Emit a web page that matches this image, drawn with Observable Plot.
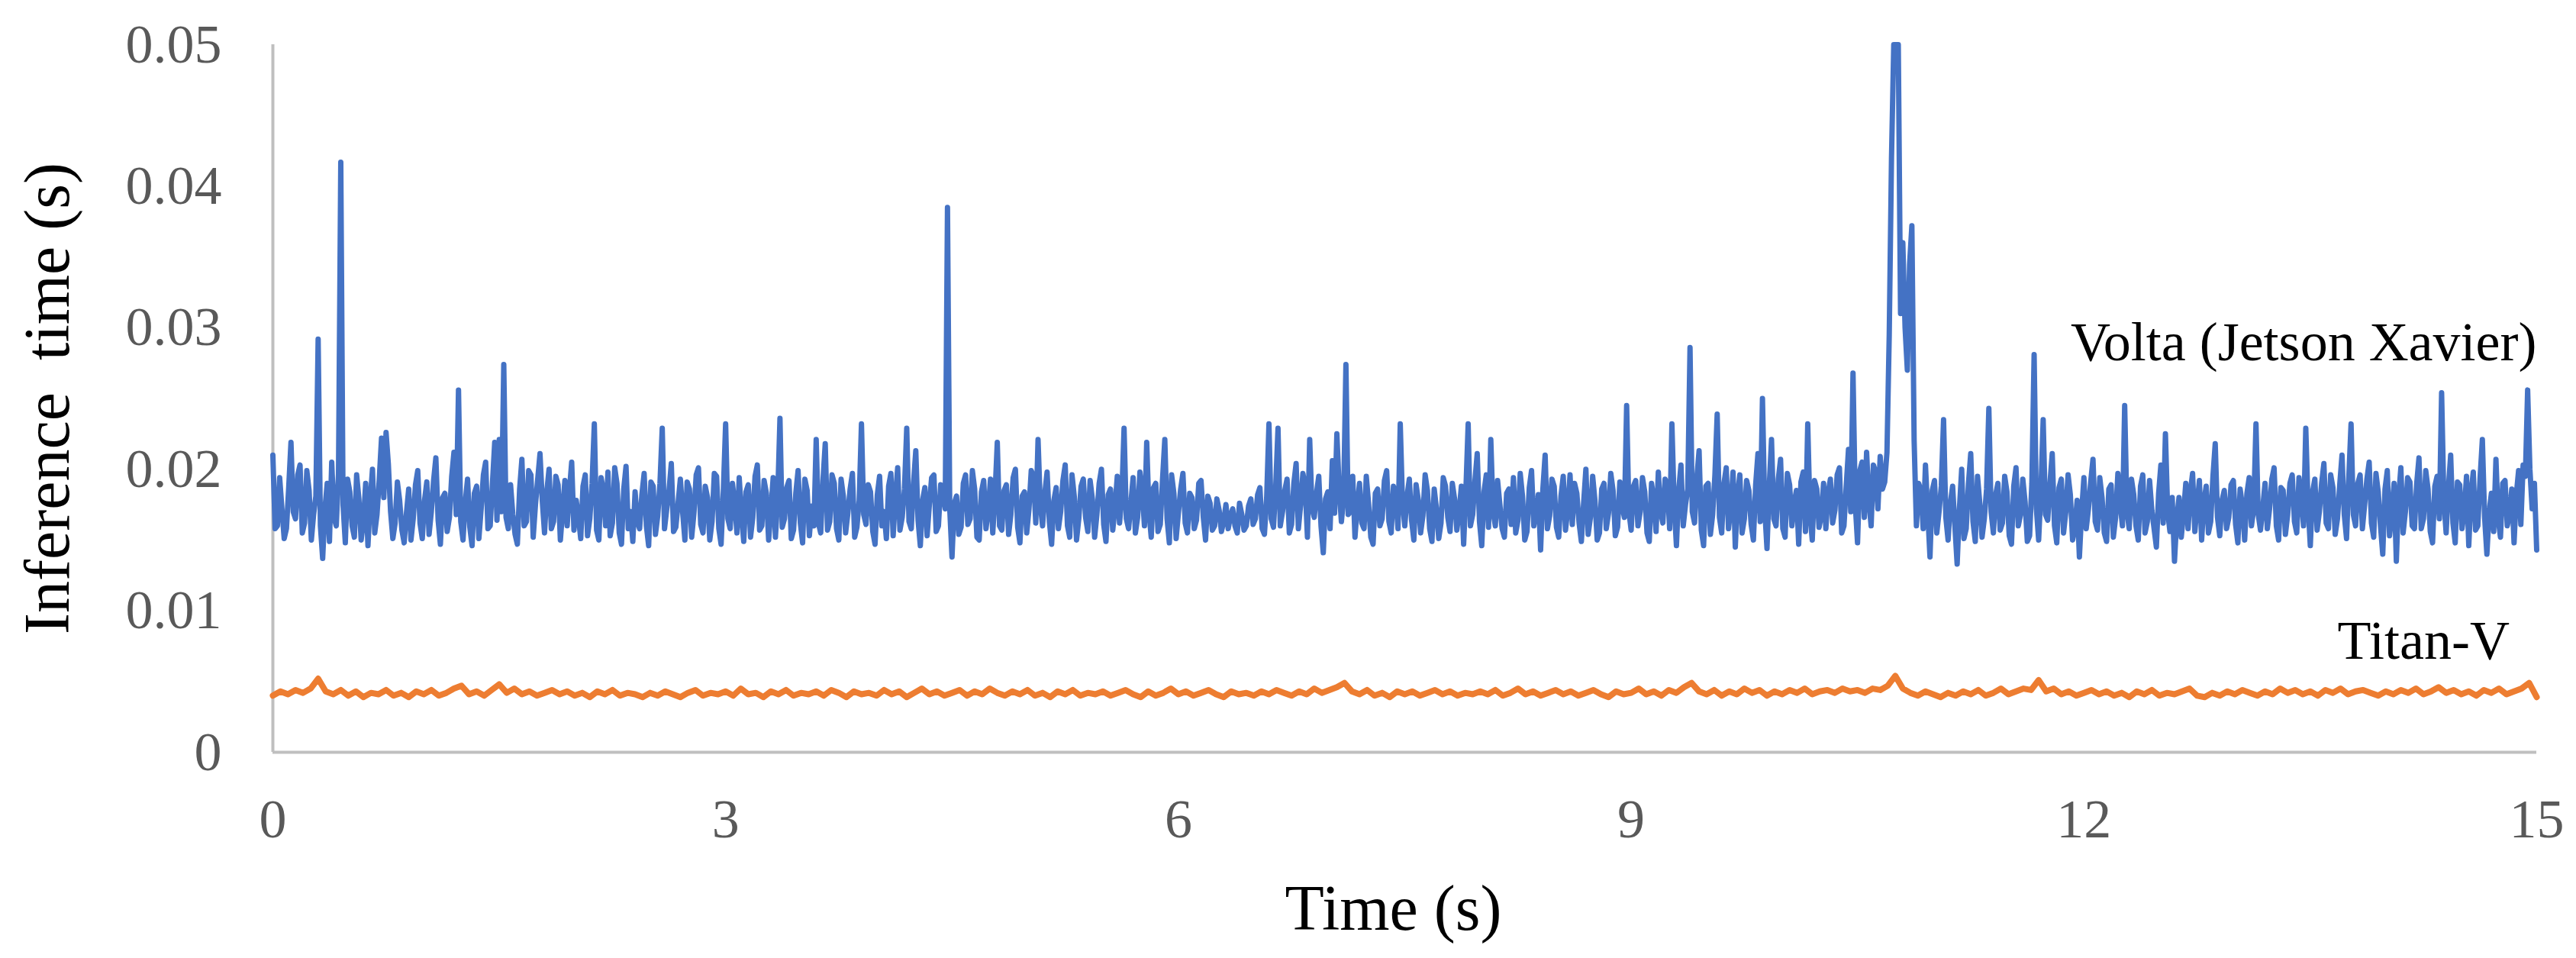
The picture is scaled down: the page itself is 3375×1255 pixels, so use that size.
<!DOCTYPE html>
<html>
<head>
<meta charset="utf-8">
<script src="https://cdn.jsdelivr.net/npm/d3@7"></script>
<script src="https://cdn.jsdelivr.net/npm/@observablehq/plot@0.6"></script>
<style>
  html, body { margin: 0; padding: 0; background: #ffffff; }
  #chart { width: 3375px; height: 1255px; }
</style>
</head>
<body>
<div id="chart"></div>
<script>
// ---- Data ----
const xTicks = [0, 3, 6, 9, 12, 15];
const yTicks = [0, 0.01, 0.02, 0.03, 0.04, 0.05];
const seriesNames = ["Volta (Jetson Xavier)", "Titan-V"];

// Volta (Jetson Xavier): one sample every 0.015 s from 0 s to 15 s (one row = 0.3 s)
const voltaInterval = 0.015;
const voltaValues = [
  0.0210,0.0158,0.0160,0.0194,0.0172,0.0151,0.0158,0.0187,0.0219,0.0170,0.0165,0.0196,0.0203,0.0155,0.0162,0.0199,0.0185,0.0150,0.0168,0.0181,
  0.0292,0.0160,0.0137,0.0172,0.0190,0.0149,0.0205,0.0166,0.0160,0.0197,0.0417,0.0175,0.0148,0.0193,0.0184,0.0160,0.0152,0.0196,0.0179,0.0150,
  0.0163,0.0190,0.0146,0.0178,0.0200,0.0155,0.0168,0.0193,0.0222,0.0180,0.0226,0.0204,0.0170,0.0151,0.0162,0.0191,0.0178,0.0157,0.0148,0.0169,
  0.0186,0.0150,0.0165,0.0189,0.0199,0.0162,0.0151,0.0178,0.0191,0.0154,0.0170,0.0192,0.0208,0.0164,0.0147,0.0180,0.0183,0.0156,0.0166,0.0195,
  0.0212,0.0168,0.0256,0.0163,0.0150,0.0177,0.0193,0.0159,0.0146,0.0183,0.0188,0.0151,0.0172,0.0196,0.0205,0.0158,0.0160,0.0190,0.0219,0.0164,
  0.0221,0.0170,0.0274,0.0166,0.0158,0.0189,0.0168,0.0154,0.0147,0.0186,0.0207,0.0160,0.0163,0.0199,0.0196,0.0152,0.0175,0.0193,0.0211,0.0178,
  0.0155,0.0184,0.0200,0.0158,0.0163,0.0195,0.0189,0.0150,0.0171,0.0192,0.0160,0.0185,0.0205,0.0157,0.0178,0.0166,0.0151,0.0188,0.0196,0.0153,
  0.0165,0.0190,0.0232,0.0157,0.0150,0.0194,0.0185,0.0160,0.0198,0.0153,0.0162,0.0201,0.0190,0.0155,0.0147,0.0186,0.0202,0.0158,0.0170,0.0149,
  0.0184,0.0163,0.0158,0.0182,0.0197,0.0160,0.0146,0.0191,0.0188,0.0154,0.0167,0.0190,0.0229,0.0158,0.0172,0.0185,0.0204,0.0156,0.0159,0.0176,
  0.0193,0.0170,0.0150,0.0191,0.0186,0.0152,0.0169,0.0196,0.0201,0.0161,0.0155,0.0188,0.0180,0.0150,0.0163,0.0197,0.0195,0.0158,0.0147,0.0185,
  0.0232,0.0165,0.0158,0.0190,0.0176,0.0155,0.0194,0.0168,0.0149,0.0184,0.0189,0.0152,0.0166,0.0195,0.0203,0.0157,0.0160,0.0192,0.0183,0.0150,
  0.0171,0.0194,0.0152,0.0180,0.0236,0.0159,0.0165,0.0187,0.0192,0.0151,0.0157,0.0183,0.0199,0.0162,0.0148,0.0193,0.0185,0.0153,0.0174,0.0160,
  0.0221,0.0162,0.0155,0.0192,0.0218,0.0157,0.0163,0.0196,0.0190,0.0158,0.0150,0.0193,0.0181,0.0155,0.0169,0.0186,0.0197,0.0152,0.0159,0.0178,
  0.0232,0.0168,0.0161,0.0189,0.0184,0.0156,0.0147,0.0182,0.0195,0.0160,0.0170,0.0151,0.0188,0.0197,0.0153,0.0180,0.0201,0.0157,0.0166,0.0186,
  0.0229,0.0163,0.0158,0.0190,0.0213,0.0164,0.0146,0.0178,0.0187,0.0153,0.0175,0.0194,0.0196,0.0156,0.0160,0.0189,0.0183,0.0172,0.0385,0.0172,
  0.0138,0.0176,0.0181,0.0154,0.0159,0.0190,0.0196,0.0161,0.0165,0.0199,0.0186,0.0152,0.0150,0.0184,0.0192,0.0158,0.0171,0.0193,0.0155,0.0182,
  0.0219,0.0160,0.0157,0.0185,0.0189,0.0154,0.0168,0.0194,0.0200,0.0159,0.0148,0.0181,0.0184,0.0155,0.0172,0.0199,0.0195,0.0162,0.0221,0.0175,
  0.0160,0.0183,0.0198,0.0163,0.0147,0.0178,0.0187,0.0158,0.0170,0.0192,0.0203,0.0160,0.0152,0.0196,0.0181,0.0150,0.0165,0.0188,0.0193,0.0166,
  0.0156,0.0192,0.0179,0.0152,0.0168,0.0190,0.0200,0.0161,0.0149,0.0182,0.0186,0.0157,0.0173,0.0195,0.0162,0.0180,0.0229,0.0165,0.0158,0.0176,
  0.0194,0.0155,0.0166,0.0198,0.0185,0.0160,0.0219,0.0170,0.0152,0.0187,0.0190,0.0156,0.0161,0.0193,0.0221,0.0165,0.0148,0.0196,0.0183,0.0151,
  0.0169,0.0186,0.0197,0.0162,0.0155,0.0183,0.0180,0.0158,0.0164,0.0190,0.0192,0.0166,0.0150,0.0181,0.0176,0.0157,0.0160,0.0179,0.0171,0.0156,
  0.0163,0.0175,0.0158,0.0167,0.0172,0.0160,0.0155,0.0176,0.0168,0.0157,0.0160,0.0174,0.0179,0.0161,0.0165,0.0182,0.0187,0.0158,0.0154,0.0180,
  0.0232,0.0165,0.0159,0.0188,0.0229,0.0160,0.0170,0.0185,0.0193,0.0155,0.0161,0.0190,0.0204,0.0158,0.0175,0.0197,0.0188,0.0152,0.0221,0.0173,
  0.0166,0.0183,0.0195,0.0160,0.0141,0.0179,0.0184,0.0158,0.0206,0.0169,0.0225,0.0187,0.0163,0.0180,0.0274,0.0168,0.0170,0.0195,0.0152,0.0174,
  0.0190,0.0162,0.0158,0.0195,0.0176,0.0152,0.0147,0.0183,0.0186,0.0160,0.0165,0.0192,0.0199,0.0163,0.0155,0.0188,0.0181,0.0158,0.0232,0.0176,
  0.0160,0.0181,0.0193,0.0164,0.0150,0.0189,0.0178,0.0155,0.0167,0.0196,0.0185,0.0158,0.0149,0.0186,0.0172,0.0151,0.0162,0.0194,0.0188,0.0166,
  0.0156,0.0190,0.0179,0.0157,0.0170,0.0188,0.0147,0.0185,0.0232,0.0160,0.0168,0.0192,0.0211,0.0163,0.0146,0.0184,0.0196,0.0159,0.0221,0.0170,
  0.0160,0.0192,0.0175,0.0158,0.0152,0.0183,0.0186,0.0161,0.0194,0.0155,0.0164,0.0197,0.0181,0.0150,0.0156,0.0187,0.0199,0.0160,0.0170,0.0182,
  0.0143,0.0186,0.0210,0.0158,0.0167,0.0193,0.0188,0.0159,0.0152,0.0181,0.0195,0.0157,0.0172,0.0196,0.0161,0.0190,0.0183,0.0162,0.0149,0.0176,
  0.0200,0.0154,0.0166,0.0195,0.0178,0.0150,0.0155,0.0186,0.0190,0.0158,0.0169,0.0197,0.0185,0.0153,0.0159,0.0191,0.0174,0.0166,0.0245,0.0170,
  0.0157,0.0188,0.0192,0.0160,0.0170,0.0194,0.0184,0.0155,0.0149,0.0190,0.0179,0.0156,0.0198,0.0170,0.0162,0.0193,0.0189,0.0158,0.0232,0.0175,
  0.0146,0.0185,0.0203,0.0160,0.0175,0.0186,0.0286,0.0170,0.0162,0.0194,0.0213,0.0157,0.0146,0.0188,0.0190,0.0154,0.0168,0.0196,0.0239,0.0166,
  0.0155,0.0190,0.0201,0.0158,0.0173,0.0198,0.0145,0.0182,0.0196,0.0155,0.0165,0.0192,0.0185,0.0161,0.0150,0.0189,0.0211,0.0163,0.0250,0.0172,
  0.0144,0.0188,0.0221,0.0165,0.0160,0.0193,0.0207,0.0158,0.0152,0.0197,0.0189,0.0160,0.0176,0.0185,0.0147,0.0191,0.0198,0.0156,0.0232,0.0168,
  0.0150,0.0192,0.0186,0.0159,0.0167,0.0190,0.0158,0.0183,0.0193,0.0162,0.0171,0.0196,0.0201,0.0155,0.0160,0.0188,0.0214,0.0170,0.0268,0.0175,
  0.0148,0.0199,0.0205,0.0166,0.0212,0.0178,0.0160,0.0203,0.0198,0.0172,0.0209,0.0186,0.0191,0.0212,0.0295,0.0420,0.0500,0.0500,0.0500,0.0310,
  0.0360,0.0300,0.0270,0.0345,0.0372,0.0220,0.0160,0.0190,0.0185,0.0158,0.0203,0.0170,0.0138,0.0185,0.0192,0.0155,0.0170,0.0188,0.0235,0.0166,
  0.0150,0.0176,0.0188,0.0160,0.0133,0.0172,0.0200,0.0151,0.0158,0.0190,0.0211,0.0163,0.0149,0.0195,0.0176,0.0152,0.0165,0.0186,0.0243,0.0170,
  0.0155,0.0182,0.0190,0.0157,0.0162,0.0195,0.0184,0.0153,0.0147,0.0188,0.0201,0.0160,0.0168,0.0193,0.0177,0.0149,0.0153,0.0190,0.0281,0.0172,
  0.0150,0.0185,0.0235,0.0168,0.0164,0.0190,0.0211,0.0160,0.0148,0.0187,0.0193,0.0155,0.0170,0.0196,0.0182,0.0150,0.0159,0.0178,0.0138,0.0170,
  0.0194,0.0158,0.0172,0.0191,0.0207,0.0163,0.0157,0.0194,0.0180,0.0155,0.0149,0.0186,0.0189,0.0152,0.0166,0.0197,0.0176,0.0160,0.0245,0.0170,
  0.0158,0.0193,0.0182,0.0160,0.0150,0.0188,0.0196,0.0155,0.0163,0.0192,0.0171,0.0158,0.0145,0.0183,0.0203,0.0162,0.0225,0.0170,0.0156,0.0180,
  0.0135,0.0165,0.0180,0.0152,0.0169,0.0190,0.0158,0.0184,0.0197,0.0156,0.0175,0.0192,0.0150,0.0177,0.0188,0.0155,0.0163,0.0195,0.0218,0.0166,
  0.0153,0.0178,0.0185,0.0158,0.0166,0.0189,0.0192,0.0161,0.0148,0.0186,0.0174,0.0150,0.0183,0.0194,0.0160,0.0172,0.0232,0.0168,0.0157,0.0173,
  0.0190,0.0158,0.0172,0.0193,0.0201,0.0160,0.0150,0.0187,0.0185,0.0154,0.0168,0.0190,0.0196,0.0163,0.0155,0.0194,0.0181,0.0160,0.0229,0.0175,
  0.0146,0.0184,0.0193,0.0157,0.0170,0.0190,0.0204,0.0162,0.0158,0.0196,0.0187,0.0154,0.0165,0.0189,0.0210,0.0168,0.0151,0.0194,0.0232,0.0168,
  0.0160,0.0190,0.0196,0.0158,0.0175,0.0193,0.0205,0.0162,0.0152,0.0197,0.0184,0.0160,0.0140,0.0186,0.0199,0.0153,0.0168,0.0190,0.0135,0.0180,
  0.0201,0.0155,0.0170,0.0194,0.0191,0.0160,0.0158,0.0190,0.0208,0.0158,0.0165,0.0199,0.0186,0.0156,0.0148,0.0188,0.0195,0.0165,0.0254,0.0178,
  0.0155,0.0187,0.0210,0.0162,0.0148,0.0191,0.0189,0.0158,0.0170,0.0195,0.0146,0.0183,0.0198,0.0157,0.0160,0.0194,0.0221,0.0166,0.0140,0.0170,
  0.0183,0.0156,0.0207,0.0165,0.0152,0.0190,0.0192,0.0160,0.0168,0.0186,0.0148,0.0182,0.0199,0.0161,0.0203,0.0195,0.0256,0.0200,0.0172,0.0190,
  0.0143
];

// Titan-V: one sample every 0.05 s from 0 s to 15 s (one row = 0.5 s)
const titanInterval = 0.05;
const titanValues = [
  0.0040, 0.0043, 0.0041, 0.0044, 0.0042, 0.0045, 0.0052, 0.0043, 0.0041, 0.0044,
  0.0040, 0.0043, 0.0039, 0.0042, 0.0041, 0.0044, 0.0040, 0.0042, 0.0039, 0.0043,
  0.0041, 0.0044, 0.0040, 0.0042, 0.0045, 0.0047, 0.0041, 0.0043, 0.0040, 0.0044,
  0.0048, 0.0042, 0.0045, 0.0041, 0.0043, 0.0040, 0.0042, 0.0044, 0.0041, 0.0043,
  0.0040, 0.0042, 0.0039, 0.0043, 0.0041, 0.0044, 0.0040, 0.0042, 0.0041, 0.0039,
  0.0042, 0.0040, 0.0043, 0.0041, 0.0039, 0.0042, 0.0044, 0.0040, 0.0042, 0.0041,
  0.0043, 0.0040, 0.0045, 0.0041, 0.0042, 0.0039, 0.0043, 0.0041, 0.0044, 0.0040,
  0.0042, 0.0041, 0.0043, 0.0040, 0.0044, 0.0042, 0.0039, 0.0043, 0.0041, 0.0042,
  0.0040, 0.0044, 0.0041, 0.0043, 0.0039, 0.0042, 0.0045, 0.0041, 0.0043, 0.0040,
  0.0042, 0.0044, 0.0040, 0.0043, 0.0041, 0.0045, 0.0042, 0.0040, 0.0043, 0.0041,
  0.0044, 0.0040, 0.0042, 0.0039, 0.0043, 0.0041, 0.0044, 0.0040, 0.0042, 0.0041,
  0.0043, 0.0040, 0.0042, 0.0044, 0.0041, 0.0039, 0.0043, 0.0040, 0.0042, 0.0045,
  0.0041, 0.0043, 0.0040, 0.0042, 0.0044, 0.0041, 0.0039, 0.0043, 0.0041, 0.0042,
  0.0040, 0.0043, 0.0041, 0.0044, 0.0042, 0.0040, 0.0043, 0.0041, 0.0045, 0.0042,
  0.0044, 0.0046, 0.0049, 0.0043, 0.0041, 0.0044, 0.0040, 0.0042, 0.0039, 0.0043,
  0.0041, 0.0043, 0.0040, 0.0042, 0.0044, 0.0041, 0.0043, 0.0040, 0.0042, 0.0041,
  0.0043, 0.0041, 0.0044, 0.0040, 0.0042, 0.0045, 0.0041, 0.0043, 0.0040, 0.0042,
  0.0044, 0.0041, 0.0043, 0.0040, 0.0042, 0.0044, 0.0041, 0.0039, 0.0043, 0.0041,
  0.0042, 0.0045, 0.0041, 0.0043, 0.0040, 0.0044, 0.0042, 0.0046, 0.0049, 0.0043,
  0.0041, 0.0044, 0.0040, 0.0043, 0.0041, 0.0045, 0.0042, 0.0044, 0.0040, 0.0043,
  0.0041, 0.0044, 0.0042, 0.0045, 0.0041, 0.0043, 0.0044, 0.0042, 0.0045, 0.0043,
  0.0044, 0.0042, 0.0045, 0.0044, 0.0047, 0.0054, 0.0045, 0.0042, 0.0040, 0.0043,
  0.0041, 0.0039, 0.0042, 0.0040, 0.0043, 0.0041, 0.0044, 0.0040, 0.0042, 0.0045,
  0.0041, 0.0043, 0.0045, 0.0044, 0.0051, 0.0043, 0.0045, 0.0041, 0.0043, 0.0040,
  0.0042, 0.0044, 0.0041, 0.0043, 0.0040, 0.0042, 0.0039, 0.0043, 0.0041, 0.0044,
  0.0040, 0.0042, 0.0041, 0.0043, 0.0045, 0.0040, 0.0039, 0.0042, 0.0040, 0.0043,
  0.0041, 0.0044, 0.0042, 0.0040, 0.0043, 0.0041, 0.0045, 0.0042, 0.0044, 0.0041,
  0.0043, 0.0040, 0.0044, 0.0042, 0.0045, 0.0041, 0.0043, 0.0044, 0.0042, 0.0040,
  0.0043, 0.0041, 0.0044, 0.0042, 0.0045, 0.0041, 0.0043, 0.0046, 0.0042, 0.0044,
  0.0041, 0.0043, 0.0040, 0.0044, 0.0042, 0.0045, 0.0041, 0.0043, 0.0045, 0.0049,
  0.0039
];

// ---- Build tables ----
const volta = voltaValues.map((v, i) => ({t: +(i * voltaInterval).toFixed(3), v}));
const titan = titanValues.map((v, i) => ({t: +(i * titanInterval).toFixed(3), v}));

const FONT = "'Liberation Serif', 'Times New Roman', Times, serif";
const BLUE = "#4472C4";
const ORANGE = "#ED7D31";
const AXIS_GRAY = "#BFBFBF";

const chart = Plot.plot({
  width: 3375,
  height: 1255,
  marginLeft: 357,
  marginRight: 52,
  marginTop: 58,
  marginBottom: 270,
  style: {fontFamily: FONT, fontSize: "72px", color: "#595959", background: "#ffffff"},
  x: {domain: [0, 15], ticks: xTicks, tickSize: 0, tickPadding: 60, label: null,
      tickFormat: d => String(d)},
  y: {domain: [0, 0.05], ticks: yTicks, tickSize: 0, tickPadding: 67, label: null,
      tickFormat: d => d === 0 ? "0" : d.toFixed(2)},
  marks: [
    Plot.ruleX([0], {stroke: AXIS_GRAY, strokeWidth: 4}),
    Plot.ruleY([0], {stroke: AXIS_GRAY, strokeWidth: 4}),
    Plot.lineY(titan, {x: "t", y: "v", stroke: ORANGE, strokeWidth: 8,
                       strokeLinejoin: "round", strokeLinecap: "round"}),
    Plot.lineY(volta, {x: "t", y: "v", stroke: BLUE, strokeWidth: 7,
                       strokeLinejoin: "round", strokeLinecap: "round"}),
    Plot.text([seriesNames[0]], {x: () => 15, y: () => 0.0277, text: d => d,
      textAnchor: "end", lineAnchor: "bottom", fontSize: 72, fill: "#000000"}),
    Plot.text([seriesNames[1]], {x: () => 14.82, y: () => 0.0066, text: d => d,
      textAnchor: "end", lineAnchor: "bottom", fontSize: 72, fill: "#000000"}),
    Plot.text(["Time (s)"], {frameAnchor: "bottom", dx: -15, dy: 232,
      lineAnchor: "bottom", textAnchor: "middle", fontSize: 84, fill: "#000000"}),
    Plot.text(["Inference\u00A0 time (s)"], {frameAnchor: "left", rotate: -90, dx: -294,
      lineAnchor: "middle", textAnchor: "middle", fontSize: 84, fill: "#000000"})
  ]
});

document.getElementById("chart").appendChild(chart);
</script>
</body>
</html>
